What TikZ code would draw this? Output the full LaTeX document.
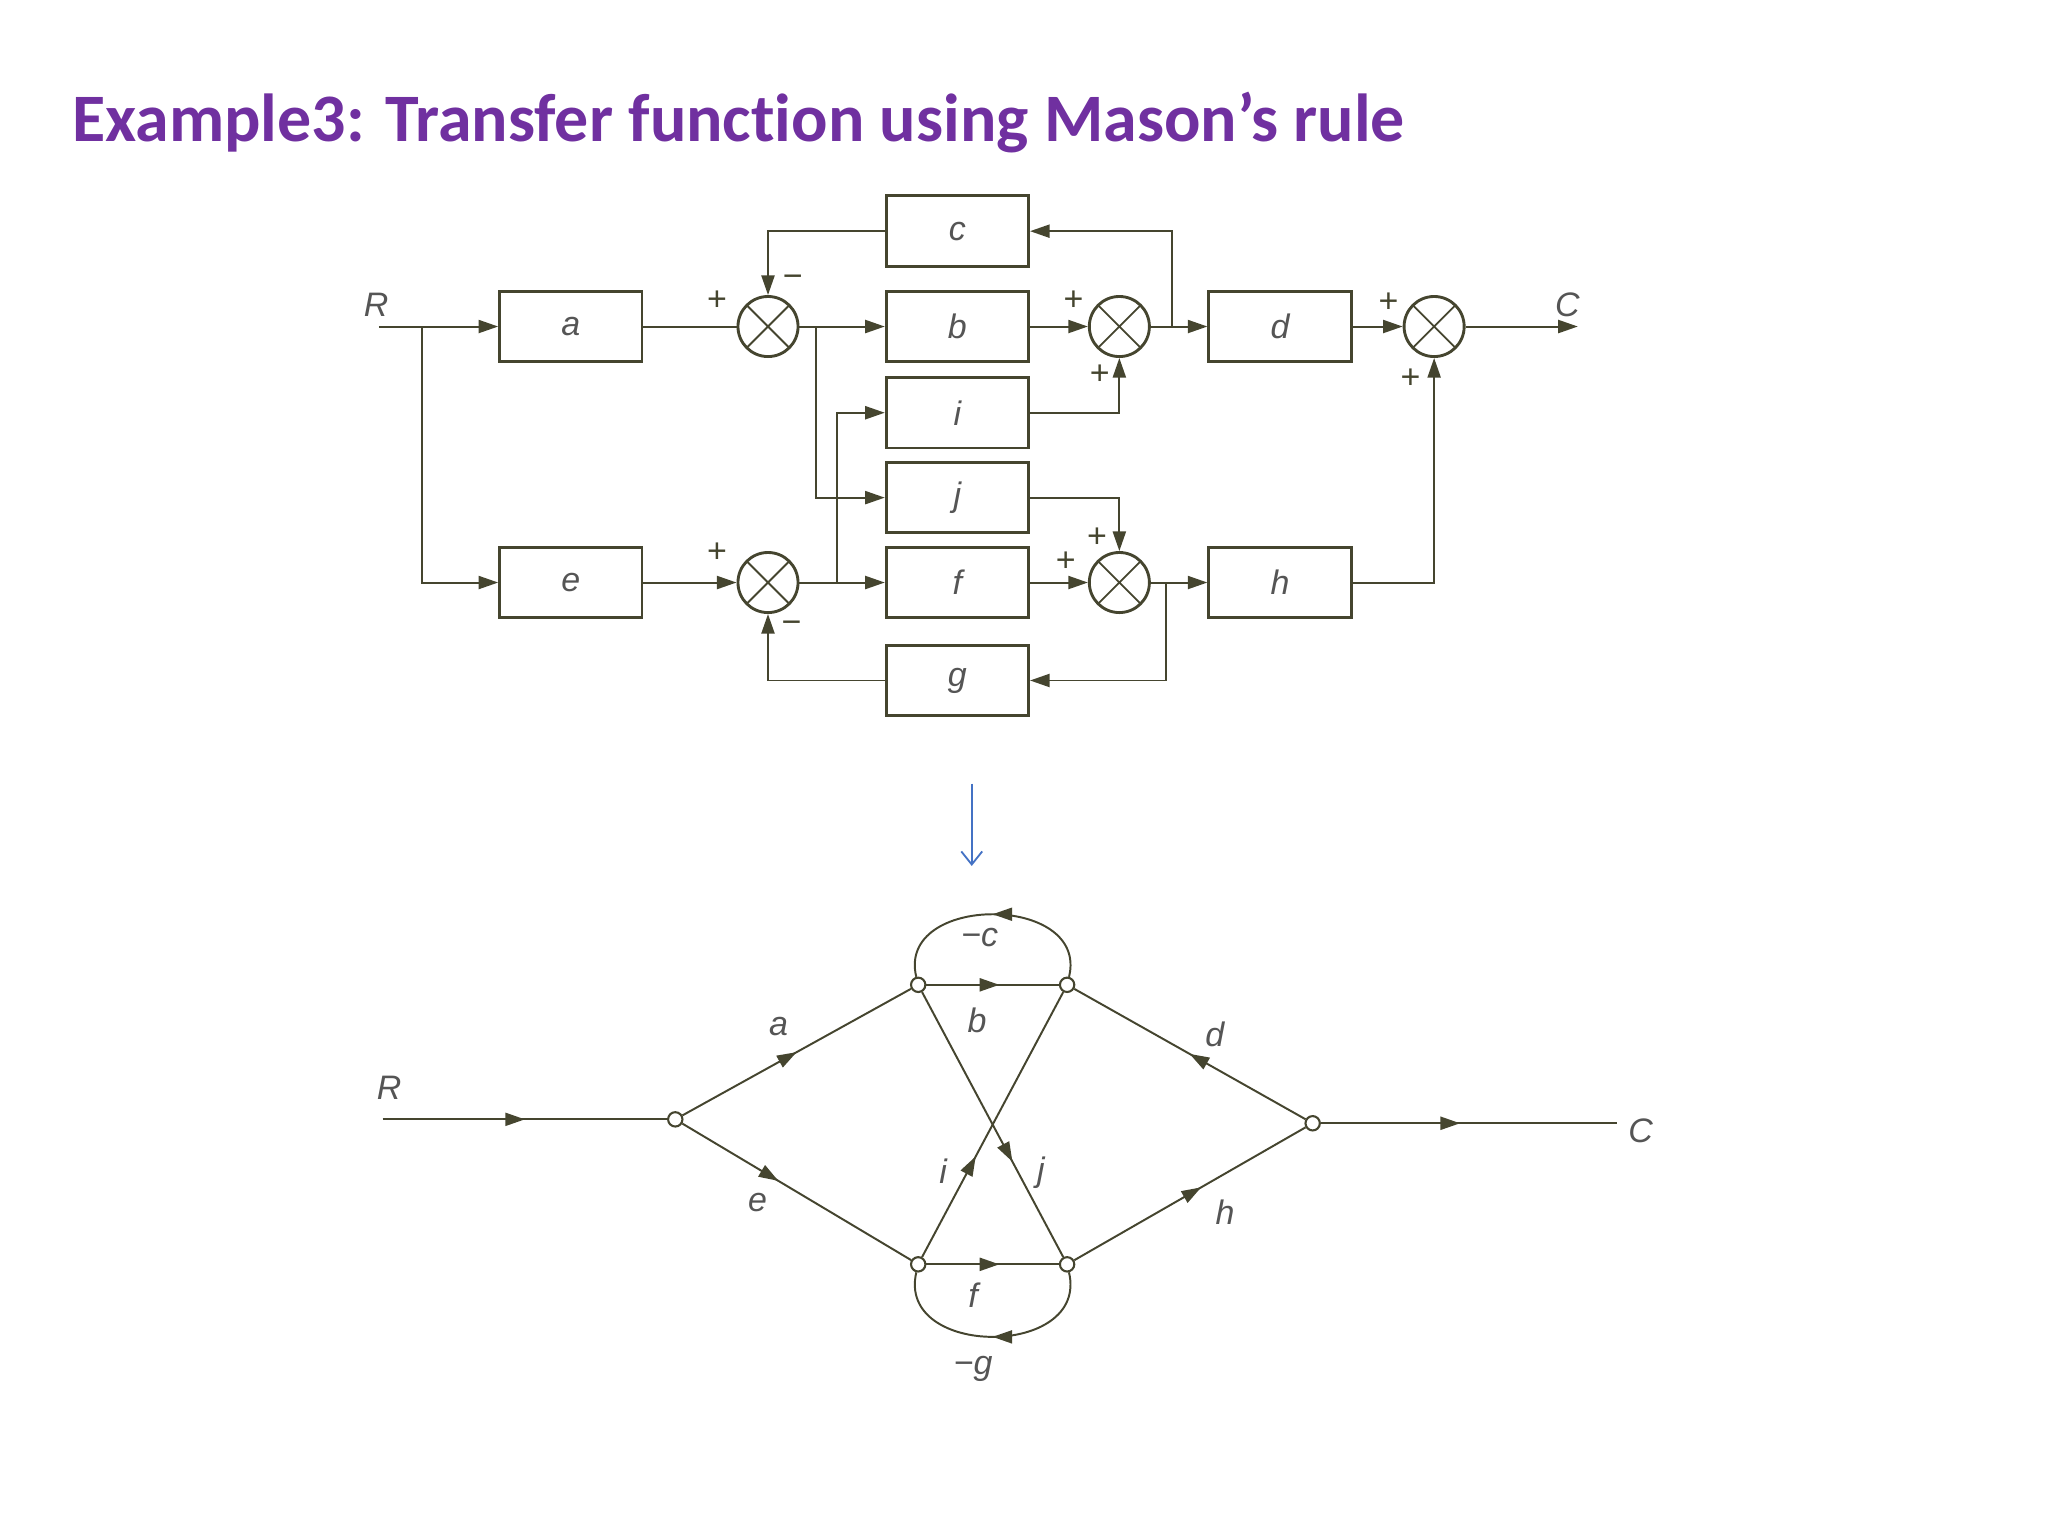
\documentclass[tikz,border=0pt]{standalone}
\usepackage{fontspec}
\setmainfont{Liberation Sans}
\newfontfamily\titlefont[Ligatures=NoCommon]{Carlito}
\usetikzlibrary{arrows.meta, decorations.markings, calc}
\definecolor{titlepurple}{HTML}{7030A0}
\definecolor{ink}{HTML}{45452F}
\definecolor{labelgray}{HTML}{555555}
\definecolor{hintblue}{HTML}{4472C4}

\begin{document}
\begin{tikzpicture}[
  x=0.5pt, y=-0.5pt,
  box/.style={draw=ink, line width=1.1pt, minimum width=54.5pt, minimum height=27pt, inner sep=0pt, font=\fontsize{13}{15}\selectfont\itshape, text=labelgray},
  sumnode/.style={circle, draw=ink, line width=1.1pt, minimum size=23pt, inner sep=0pt,
    path picture={\draw[ink, line width=0.7pt] (path picture bounding box.north west) -- (path picture bounding box.south east)
      (path picture bounding box.north east) -- (path picture bounding box.south west);}},
  sign/.style={font=\fontsize{13}{14}\selectfont, text=ink, inner sep=0pt},
  lbl/.style={font=\fontsize{13}{15}\selectfont\itshape, text=labelgray, inner sep=0pt},
  wire/.style={draw=ink, line width=0.75pt},
  arr/.style={wire, -{Triangle[length=7.5pt, width=5pt]}},
  sfgnode/.style={circle, draw=ink, fill=white, line width=0.8pt, minimum size=5.5pt, inner sep=0pt},
  branch/.style={wire, postaction={decorate}, decoration={markings, mark=at position #1 with {\arrow{Triangle[length=7.5pt, width=5pt]}}}},
  branch/.default=0.5,
  backbranch/.style={wire, postaction={decorate}, decoration={markings, mark=at position #1 with {\arrowreversed{Triangle[length=7.5pt, width=5pt]}}}},
  backbranch/.default=0.5,
]
\useasboundingbox (0,0) rectangle (1568,1176);

% Title
\node[anchor=base west, inner sep=0pt, text=titlepurple, font=\titlefont\bfseries\fontsize{26}{31}\selectfont] (title) at (55,108) {Example3: Transfer function using Mason’s rule};

% Block diagram: blocks
\node[box] (boxa) at (437,250) {a};
\node[box] (boxe) at (437,446) {e};
\node[box] (boxc) at (733,177) {c};
\node[box] (boxb) at (733,250) {b};
\node[box] (boxi) at (733,316) {i};
\node[box] (boxj) at (733,381) {j};
\node[box] (boxf) at (733,446) {f};
\node[box] (boxg) at (733,521) {g};
\node[box] (boxd) at (980,250) {d};
\node[box] (boxh) at (980,446) {h};

% Block diagram: summing points
\node[sumnode] (s1) at (588,250) {};
\node[sumnode] (s2) at (588,446) {};
\node[sumnode] (s3) at (857,250) {};
\node[sumnode] (s4) at (857,446) {};
\node[sumnode] (s5) at (1098,250) {};

% Block diagram: input, output and take-off points
\coordinate (rin) at (290,250);
\coordinate (cout) at (1208,250);
\coordinate (tapR) at (323,250);
\coordinate (tap1) at (625,250);
\coordinate (tap2) at (641,446);
\coordinate (tap3) at (897,250);
\coordinate (tap4) at (893,446);
\node[lbl] (rlbl) at (288,233) {R};
\node[lbl] (clbl) at (1200,233) {C};

% Signs
\node[sign] at (549,230) {+};
\node[sign] at (607,215) {−};
\node[sign] at (549,423) {+};
\node[sign] at (606,480) {−};
\node[sign] at (822,230) {+};
\node[sign] at (842,287) {+};
\node[sign] at (816,430) {+};
\node[sign] at (840,412) {+};
\node[sign] at (1063,232) {+};
\node[sign] at (1080,290) {+};

% Block diagram: connections
\draw[arr] (rin) -- (boxa);
\draw[arr] (tapR) |- (boxe);
\draw[wire] (boxa) -- (s1);
\draw[arr] (boxc.west) -| (s1.north);
\draw[arr] (s1) -- (boxb);
\draw[arr] (tap1) |- (boxj);
\draw[arr] (boxe) -- (s2);
\draw[arr] (s2) -- (boxf);
\draw[arr] (tap2) |- (boxi);
\draw[arr] (boxg.west) -| (s2.south);
\draw[arr] (boxb) -- (s3);
\draw[arr] (boxi.east) -| (s3.south);
\draw[arr] (s3) -- (boxd);
\draw[arr] (tap3) |- (boxc.east);
\draw[arr] (boxf) -- (s4);
\draw[arr] (boxj.east) -| (s4.north);
\draw[arr] (s4) -- (boxh);
\draw[arr] (tap4) |- (boxg.east);
\draw[arr] (boxd) -- (s5);
\draw[arr] (boxh.east) -| (s5.south);
\draw[arr] (s5) -- (cout);

% Conversion arrow
\coordinate (hintstart) at (744,600);
\coordinate (hintend) at (744,663);
\draw[hintblue, line width=0.7pt, -{Straight Barb[length=5pt, width=8pt]}] (hintstart) -- (hintend);

% Signal flow graph: nodes
\coordinate (sin) at (293,857);
\coordinate (sout) at (1238,860);
\node[sfgnode] (n1) at (517,857) {};
\node[sfgnode] (n2) at (703,754) {};
\node[sfgnode] (n3) at (817,754) {};
\node[sfgnode] (n4) at (703,968) {};
\node[sfgnode] (n5) at (817,968) {};
\node[sfgnode] (n6) at (1005,860) {};

% Signal flow graph: branches
\draw[branch=0.5] (sin) -- (n1);
\draw[branch=0.5] (n1) -- (n2);
\draw[branch=0.42] (n1) -- (n4);
\draw[branch=0.55] (n2) -- (n3);
\draw[branch=0.55] (n4) -- (n5);
\draw[branch=0.5] (n3) .. controls (834,684) and (686,684) .. (n2);
\draw[branch=0.5] (n5) .. controls (834,1040) and (686,1040) .. (n4);
\draw[branch=0.64] (n2) -- (n5);
\draw[branch=0.38] (n4) -- (n3);
\draw[backbranch=0.5] (n3) -- (n6);
\draw[branch=0.55] (n5) -- (n6);
\draw[branch=0.47] (n6) -- (sout);

% Signal flow graph: labels
\node[lbl] at (298,833) {R};
\node[lbl] at (1256,866) {C};
\node[lbl] at (596,786) {a};
\node[lbl] at (580,921) {e};
\node[lbl] at (748,781) {b};
\node[lbl] at (750,718) {−c};
\node[lbl] at (745,992) {f};
\node[lbl] at (745,1048) {−g};
\node[lbl] at (722,897) {i};
\node[lbl] at (797,898) {j};
\node[lbl] at (930,792) {d};
\node[lbl] at (938,928) {h};

\end{tikzpicture}
\end{document}
